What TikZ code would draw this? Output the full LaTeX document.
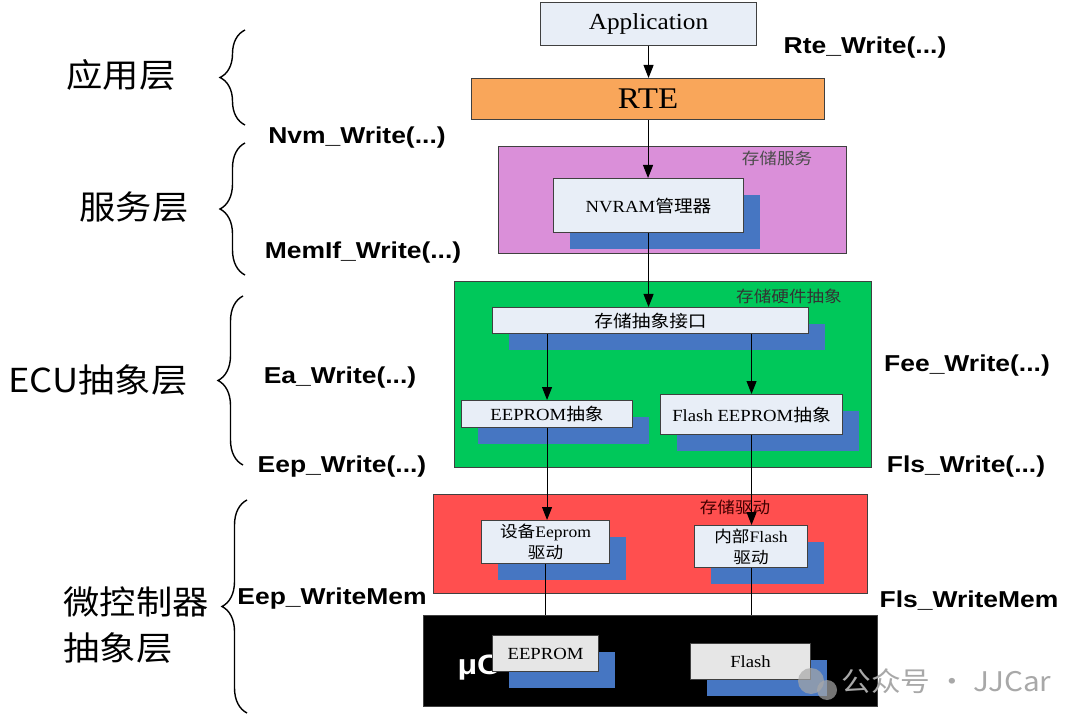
\documentclass[tikz,border=0pt]{standalone}
\usepackage{fontspec}
\setmainfont[FakeStretch=1.1]{Liberation Serif}
\newfontfamily\cjk[FakeStretch=1.1]{Noto Sans CJK SC}
\newfontfamily\lab[FakeStretch=1.15]{Liberation Sans}
\usetikzlibrary{arrows.meta,shadows,decorations.pathreplacing}
\definecolor{boxfill}{HTML}{E8EEF7}
\definecolor{boxline}{HTML}{404040}
\definecolor{rteorange}{HTML}{F9A65A}
\definecolor{svcpurple}{HTML}{DA8FD9}
\definecolor{hwgreen}{HTML}{00C85A}
\definecolor{drvred}{HTML}{FF4F4F}
\definecolor{shadowblue}{HTML}{4676C2}
\definecolor{memgray}{HTML}{E6E6E6}
\definecolor{wmgray}{HTML}{A8A8A8}
\begin{document}
\begin{tikzpicture}[x=1pt,y=-1pt,
  box/.style={draw=boxline, line width=1.1pt, fill=boxfill, inner sep=0pt, anchor=north west,
    font=\fontsize{17}{19}\selectfont, align=center},
  shad/.style={copy shadow={shadow xshift=16pt, shadow yshift=-16pt, fill=shadowblue, draw=none}},
  cont/.style={draw=boxline, line width=0.9pt, inner sep=0pt, anchor=north west},
  contlabel/.style={font=\cjk\fontsize{16}{18}\selectfont},
  layer/.style={font=\cjk\fontsize{33}{46}\selectfont, align=left},
  api/.style={font=\lab\bfseries\fontsize{23}{26}\selectfont},
  arr/.style={draw=black, line width=1pt, -{Triangle[length=13pt,width=10pt]}},
  plain/.style={draw=black, line width=1pt},
  bracestyle/.style={draw=black, line width=1.4pt, decorate, decoration={brace, amplitude=25pt}}
]
\useasboundingbox (0,0) rectangle (1080,722);
\fill[white] (0,0) rectangle (1080,722);

% layer names and braces
\node[layer] (l1) at (121,75) {应用层};
\node[layer] (l2) at (134,207) {服务层};
\node[layer] (l3) at (98,380) {ECU抽象层};
\node[layer, anchor=west] (l4) at (60,625) {微控制器\\抽象层};
\draw[bracestyle] (245,125) -- (245,30);
\draw[bracestyle] (245,275) -- (245,143);
\draw[bracestyle] (243,465) -- (243,296);
\draw[bracestyle] (247,713) -- (247,500);

% API labels
\node[api] (nvmw) at (357,138) {Nvm\_Write(...)};
\node[api] (memw) at (363,253) {MemIf\_Write(...)};
\node[api] (eaw) at (340,378) {Ea\_Write(...)};
\node[api] (eepw) at (342,467) {Eep\_Write(...)};
\node[api] (eepwm) at (332,599) {Eep\_WriteMem};
\node[api] (rtew) at (865,48) {Rte\_Write(...)};
\node[api] (feew) at (967,366) {Fee\_Write(...)};
\node[api] (flsw) at (966,467) {Fls\_Write(...)};
\node[api] (flswm) at (969,601) {Fls\_WriteMem};

% top boxes
\node[box, minimum width=216pt, minimum height=43pt, font=\fontsize{23}{26}\selectfont] (app) at (540,2) {Application};
\node[box, fill=rteorange, minimum width=353pt, minimum height=41pt, font=\fontsize{30}{32}\selectfont] (rte) at (471,78) {RTE};

% service layer
\node[cont, fill=svcpurple, minimum width=348pt, minimum height=107pt] (svc) at (498,146) {};
\node[contlabel, text=black!70] (svcl) at (777,158) {存储服务};
\node[box, shad, minimum width=190pt, minimum height=54pt] (nvram) at (553,178) {NVRAM{\cjk 管理器}};

% hardware abstraction
\node[cont, fill=hwgreen, minimum width=417pt, minimum height=186pt] (hw) at (454,281) {};
\node[contlabel, text=black!80] (hwl) at (789,296) {存储硬件抽象};
\node[box, shad, minimum width=316pt, minimum height=26pt] (iface) at (492,307) {\cjk 存储抽象接口};
\node[box, shad, minimum width=171pt, minimum height=27pt] (eabs) at (461,400) {EEPROM{\cjk 抽象}};
\node[box, shad, minimum width=182pt, minimum height=40pt] (fabs) at (660,394) {Flash EEPROM{\cjk 抽象}};

% drivers
\node[cont, fill=drvred, minimum width=434pt, minimum height=99pt] (drv) at (433,494) {};
\node[contlabel, text=black!75!red] (drvl) at (735,507) {存储驱动};
\node[box, shad, minimum width=128pt, minimum height=43pt, font=\fontsize{16}{21}\selectfont] (eepdrv) at (481,520) {{\cjk 设备}Eeprom\\{\cjk 驱动}};
\node[box, shad, minimum width=113pt, minimum height=42pt, font=\fontsize{16}{21}\selectfont] (fldrv) at (694,525) {{\cjk 内部}Flash\\{\cjk 驱动}};

% microcontroller
\node[cont, fill=black, minimum width=454pt, minimum height=91pt] (mcu) at (423,615) {};
\node[text=white, font=\lab\bfseries\fontsize{28}{30}\selectfont, anchor=west] (mu) at (454,668) {μC};
\node[box, shad, fill=memgray, minimum width=106pt, minimum height=36pt] (eep) at (492,635) {EEPROM};
\node[box, shad, fill=memgray, minimum width=120pt, minimum height=36pt] (flash) at (690,643) {Flash};

% connectors
\draw[arr] (app.south) -- (app.south |- rte.north);
\draw[arr] (rte.south) -- (rte.south |- nvram.north);
\draw[arr] (nvram.south) -- (nvram.south |- iface.north);
\draw[arr] (iface.south -| eabs.north) -- (eabs.north);
\draw[arr] (iface.south -| fabs.north) -- (fabs.north);
\draw[arr] (eabs.south) -- (eabs.south |- eepdrv.north);
\draw[arr] (fabs.south) -- (fabs.south |- fldrv.north);
\draw[plain] (eepdrv.south) -- (eepdrv.south |- mcu.north);
\draw[plain] (fldrv.south) -- (fldrv.south |- mcu.north);

% watermark
\fill[wmgray, opacity=0.7] (811,681) circle (13pt);
\fill[wmgray, opacity=0.7] (827,690) circle (10pt);
\node[anchor=west, text=wmgray, font=\cjk\fontsize{27}{30}\selectfont] (wm) at (838,681) {公众号 · JJCar};
\end{tikzpicture}
\end{document}
